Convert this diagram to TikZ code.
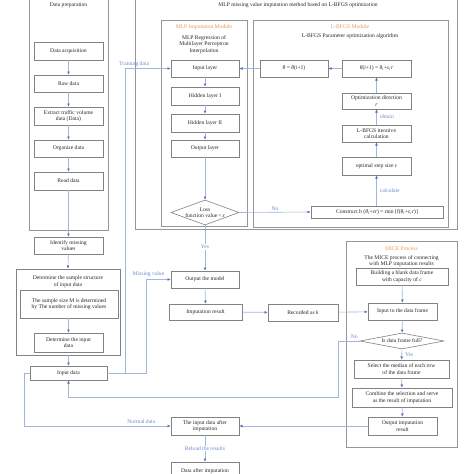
\documentclass[tikz,border=0pt]{standalone}
\usepackage{fontspec}
\setmainfont{Liberation Serif}
\usetikzlibrary{arrows.meta,shapes.geometric}
\definecolor{boxgray}{RGB}{130,130,130}
\definecolor{framegray}{RGB}{150,150,150}
\definecolor{connblue}{RGB}{160,182,220}
\definecolor{tipblue}{RGB}{80,115,185}
\definecolor{lblblue}{RGB}{110,140,205}
\definecolor{modorange}{RGB}{230,155,90}
\definecolor{txt}{RGB}{40,40,40}
\newcommand{\fs}{\fontsize{5.6}{6.6}\selectfont}
\newcommand{\sbs}[1]{\textsubscript{#1}}
\tikzset{
  box/.style={draw=boxgray, line width=0.6pt, align=center, font=\fs, text=txt, inner sep=0.5pt, minimum width=68pt, minimum height=17pt},
  frame/.style={draw=framegray, line width=0.8pt},
  dia/.style={draw=boxgray, line width=0.6pt, diamond, aspect=2.7, align=center, font=\fs, text=txt, inner sep=0pt},
  conn/.style={draw=connblue, line width=0.6pt},
  arr/.style={conn, -{Latex[length=3.2pt,width=2.8pt,color=tipblue]}},
  lbl/.style={font=\fs, text=lblblue, inner sep=1pt},
  ttl/.style={font=\fs, text=txt, align=center, inner sep=0pt},
  mod/.style={font=\fs, text=modorange, inner sep=0pt}
}
\begin{document}
\begin{tikzpicture}[x=1pt,y=-1pt]
\useasboundingbox (0,0) rectangle (474,474);
\fill[white] (0,0) rectangle (474,474);
% frames
\draw[frame] (29,-5) rectangle (108,230);
\draw[frame] (135,-5) rectangle (457,229);
\draw[frame] (161,20) rectangle (247,226);
\draw[frame] (253,20) rectangle (448,227);
\draw[frame] (346,241) rectangle (457,447);
% titles
\node[ttl] (tdp) at (68.5,5) {Data preparation};
\node[ttl] (tmain) at (298,5) {MLP missing value imputation method based on L-BFGS optimization};
\node[mod] (tmlp) at (204,27) {MLP Imputation Module};
\node[ttl, text depth=0pt] (tmlp2) at (204,44) {MLP Regression of\\[-0.3pt]Multilayer Perceptron\\[-0.3pt]Interpolation};
\node[mod] (tlb) at (350,27) {L-BFGS Module};
\node[ttl] (tlb2) at (350,36) {L-BFGS Parameter optimization algorithm};
\node[mod] (tmice) at (401.5,249) {MICE Process};
\node[ttl] (tmice2) at (401.5,261) {The MICE process of connecting\\with MLP imputation results};
% data preparation
\node[box, minimum width=69pt, minimum height=18pt] (dacq) at (68.5,51) {Data acquisition};
\node[box, minimum width=69pt] (raw) at (68.5,83.5) {Raw data};
\node[box, minimum width=69pt, minimum height=18pt] (extract) at (68.5,116) {Extract traffic volume\\data (Data)};
\node[box, minimum width=69pt] (organize) at (68.5,148.5) {Organize data};
\node[box, minimum width=69pt, minimum height=18pt] (read) at (68.5,181) {Read data};
\node[box, minimum width=69pt] (identify) at (68.5,245.5) {Identify missing\\values};
\node[draw=boxgray, line width=0.6pt, minimum width=104pt, minimum height=86pt, inner sep=0pt] (struct) at (68,312) {};
\node[ttl] (tstruct) at (68,281.5) {Determine the sample structure\\of input data};
\node[box, minimum width=98pt, minimum height=28pt] (msize) at (69,304) {The sample size M is determined\\by The number of missing values};
\node[box, minimum width=69pt, minimum height=19pt] (detin) at (68.5,342.5) {Determine the input\\data};
\node[box, minimum width=77pt, minimum height=14pt] (indata) at (68.5,373) {Input data};
% MLP module
\node[box] (inl) at (205,68.5) {Input layer};
\node[box, minimum height=18pt] (h1) at (205,96) {Hidden layer I};
\node[box, minimum height=18pt] (h2) at (205,123) {Hidden layer II};
\node[box] (outl) at (205,148.5) {Output layer};
\node[dia, minimum width=68pt, minimum height=25pt] (loss) at (205,212.5) {Loss\\function value\,<\,\textit{ε}};
% L-BFGS module
\node[box] (theta) at (294,68.5) {\textit{θ} = \textit{θ}(\textit{i}+1)};
\node[box, minimum width=69pt] (thetai) at (376.5,68.5) {\textit{θ}(\textit{i}+1) = \textit{θ}\sbs{\textit{i}}+\textit{ε}\sbs{\textit{i}}\textit{r}};
\node[box, minimum width=69pt, minimum height=16pt] (optdir) at (376.5,101) {Optimization direction\\\textit{r}};
\node[box, minimum width=69pt] (iter) at (376.5,133.5) {L-BFGS iterative\\calculation};
\node[box, minimum width=69pt, minimum height=18pt] (step) at (376.5,166) {optimal step size \textit{ε}};
\node[box, minimum width=132pt, minimum height=12pt] (constr) at (377,212) {Construct h (\textit{θ}\sbs{\textit{i}}+\textit{εr}) = min [f(\textit{θ}\sbs{\textit{i}}+\textit{ε}\sbs{\textit{i}}\textit{r})]};
% middle
\node[box] (outmod) at (205,279.5) {Output the model};
\node[box, minimum width=73pt, minimum height=16pt] (impres) at (205.5,312) {Imputation result};
\node[box, minimum width=70pt] (rec) at (303,312.5) {Recorded as \textit{k}};
% MICE
\node[box, minimum width=92pt] (build) at (402,276.5) {Building a blank data frame\\with capacity of \textit{c}};
\node[box, minimum width=69pt] (inframe) at (402.5,311.5) {Input to the data frame};
\node[dia, minimum width=84pt, minimum height=16pt, aspect=5] (full) at (402,341) {Is data frame full?};
\node[box, minimum width=95pt, minimum height=18pt] (median) at (401.5,369) {Select the median of each row\\of the data frame};
\node[box, minimum width=100pt, minimum height=19pt] (comb) at (402,397.5) {Combine the selection and serve\\as the result of imputation};
\node[box, minimum width=69pt, minimum height=18pt] (outimp) at (402.5,426) {Output imputation\\result};
% bottom
\node[box, minimum height=18pt] (after) at (205,426) {The input data after\\imputation};
\node[box, minimum height=18pt] (final) at (205,471) {Data after imputation};
% coordinates
\coordinate (ctr) at (125,373);
\coordinate (cmv) at (146,373);
\coordinate (cno) at (338,341);
\coordinate (cno2) at (338,397);
\coordinate (cnd) at (24,373);
% connectors data prep
\draw[arr] (dacq) -- (raw);
\draw[arr] (raw) -- (extract);
\draw[arr] (extract) -- (organize);
\draw[arr] (organize) -- (read);
\draw[arr] (read) -- (identify);
\draw[arr] (identify) -- (struct.north);
\draw[arr] (msize.south -| detin.north) -- (detin);
\draw[arr] (struct.south -| indata.north) -- (indata);
% training / missing value
\draw[arr] (indata.east) -- (ctr) |- (inl.west) node[lbl, pos=0.6, above=0.5pt] {Training data};
\draw[arr] (ctr) -- (cmv) |- (outmod.west) node[lbl, pos=0.55, above=1pt] {Missing value};
% MLP
\draw[arr] (inl) -- (h1);
\draw[arr] (h1) -- (h2);
\draw[arr] (h2) -- (outl);
\draw[arr] (outl) -- (loss);
\draw[arr] (loss.east) -- (constr.west) node[lbl, midway, above] {No};
\draw[arr] (constr.north -| step.south) -- (step.south) node[lbl, midway, right=2pt] {calculate};
\draw[arr] (step) -- (iter);
\draw[arr] (iter) -- (optdir) node[lbl, midway, right=2pt] {obtain};
\draw[arr] (optdir) -- (thetai);
\draw[arr] (thetai) -- (theta);
\draw[arr] (theta) -- (inl);
\draw[arr] (loss.south) -- (outmod.north) node[lbl, pos=0.48, fill=white] {Yes};
\draw[arr] (outmod) -- (impres);
\draw[arr] (impres) -- (rec);
\draw[arr] (rec) -- (inframe);
% MICE
\draw[arr] (build) -- (inframe);
\draw[arr] (inframe) -- (full);
\draw[arr] (full) -- (median) node[lbl, midway, right=2pt] {Yes};
\draw[arr] (median) -- (comb);
\draw[arr] (comb) -- (outimp);
\draw[arr] (full.west) -- (cno) node[lbl, pos=0.25, above=1pt] {No} -- (cno2) -| (indata.south);
\draw[arr] (outimp) -- (after);
\draw[arr] (indata.west) -- (cnd) |- (after.west) node[lbl, pos=0.9, above=1pt] {Normal data};
\draw[arr] (after) -- (final) node[lbl, midway, fill=white] {Reload the results};
\end{tikzpicture}
\end{document}
